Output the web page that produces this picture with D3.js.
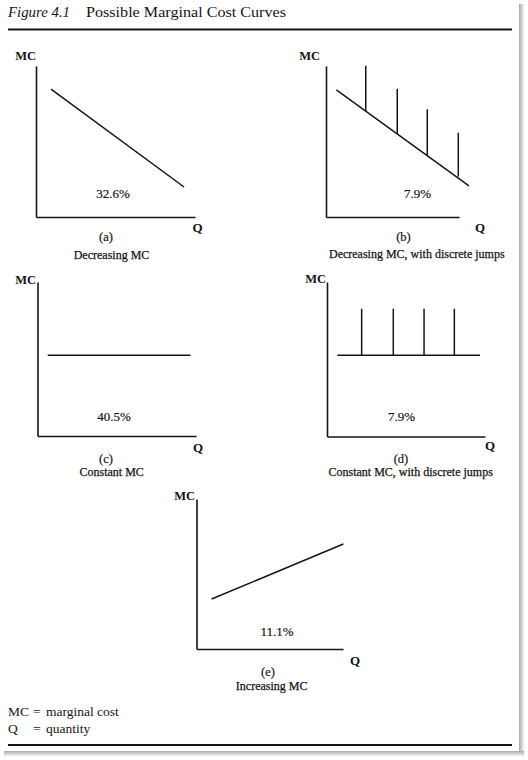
<!DOCTYPE html>
<html>
<head>
<meta charset="utf-8">
<script src="https://cdn.jsdelivr.net/npm/d3@7"></script>
<style>
  html, body { margin: 0; padding: 0; background: #fff; }
  svg text { font-family: "Liberation Serif", "DejaVu Serif", serif; fill: #151515; }
  .eje .domain { stroke: #151515; stroke-width: 1.6px; }
  .curva { fill: none; stroke: #151515; stroke-width: 1.5px; }
  .salto { stroke: #151515; stroke-width: 1.5px; }
</style>
</head>
<body>
<script>
var anchoSvg = 528,
    altoSvg = 760,
    pxPorUnidad = 1.5;

// datos del grafico (unidades abstractas: Q en horizontal, MC en vertical)
var paneles = ['(a)', '(b)', '(c)', '(d)', '(e)'];
var titulos = ['Decreasing MC', 'Decreasing MC, with discrete jumps', 'Constant MC',
               'Constant MC, with discrete jumps', 'Increasing MC'];
var porcentajes = ['32.6%', '7.9%', '40.5%', '7.9%', '11.1%'];
var largoEjeQ = [106, 88.7, 105.7, 105.3, 97.7];
var largoEjeMC = [100.7, 100.7, 102.7, 103, 100];

var curvaA = [{q: 10, mc: 85.3}, {q: 98.7, mc: 20}];
var curvaB = [{q: 6.9, mc: 84.7}, {q: 95.3, mc: 20.7}];
var curvaC = [{q: 6.8, mc: 53.8}, {q: 102, mc: 53.8}];
var curvaD = [{q: 6.9, mc: 54.1}, {q: 102, mc: 54.1}];
var curvaE = [{q: 10.1, mc: 33.3}, {q: 97.9, mc: 70}];
var curvas = [curvaA, curvaB, curvaC, curvaD, curvaE];

var saltosB_q = [26.5, 47.5, 67.5, 88.2],
    saltosB_base = [70.7, 55.3, 41.3, 26.9],
    saltosB_tope = [100.9, 85.5, 71.8, 56.2];
var saltosD_q = [23.1, 44.2, 64.7, 84.9],
    saltosD_base = [54.1, 54.1, 54.1, 54.1],
    saltosD_tope = [85.2, 85.2, 85.2, 85.2];

// posiciones de cada panel en la pagina
var disposicion = [
    {ox: 36,    oy: 217,   mc: [36, 60],     q: [197.5, 232], pct: [113, 198],   tag: [106, 241],   tit: [111.5, 259]},
    {ox: 326,   oy: 217,   mc: [320, 60],    q: [480, 232],   pct: [417.5, 198], tag: [403.5, 241], tit: [416.8, 258]},
    {ox: 37.5,  oy: 436,   mc: [36, 283.5],  q: [198, 452],   pct: [114, 421],   tag: [106, 463],   tit: [111.7, 476]},
    {ox: 327,   oy: 436.5, mc: [326, 283],   q: [490, 450],   pct: [401.5, 421], tag: [401, 463],   tit: [410.7, 476]},
    {ox: 196.5, oy: 649,   mc: [195, 499.5], q: [355, 665],   pct: [277, 635.5], tag: [268, 676],   tit: [271.7, 690]}
];

var svg = d3.select('body')
    .append('svg')
    .attr('width', anchoSvg)
    .attr('height', altoSvg);

// sombra de la pagina
var defs = svg.append('defs');
var gradDcho = defs.append('linearGradient').attr('id', 'sombraDcho');
gradDcho.append('stop').attr('offset', '0%').attr('stop-color', '#a8a8a8');
gradDcho.append('stop').attr('offset', '100%').attr('stop-color', '#f4f4f4');
var gradInf = defs.append('linearGradient').attr('id', 'sombraInf')
    .attr('x1', 0).attr('y1', 0).attr('x2', 0).attr('y2', 1);
gradInf.append('stop').attr('offset', '0%').attr('stop-color', '#a8a8a8');
gradInf.append('stop').attr('offset', '100%').attr('stop-color', '#f4f4f4');

svg.append('rect').attr('x', 519).attr('y', 4).attr('width', 5).attr('height', 752)
    .attr('fill', 'url(#sombraDcho)');
svg.append('rect').attr('x', 4).attr('y', 751).attr('width', 520).attr('height', 5)
    .attr('fill', 'url(#sombraInf)');
svg.append('rect').attr('x', 0).attr('y', 0).attr('width', 519).attr('height', 751)
    .attr('fill', '#fff');

// titulo
svg.append('text').attr('x', 8).attr('y', 17).style('font-size', '15px').style('font-style', 'italic')
    .attr('textLength', 62).attr('lengthAdjust', 'spacingAndGlyphs')
    .text('Figure 4.1');
svg.append('text').attr('x', 86).attr('y', 17).style('font-size', '15px')
    .attr('textLength', 200).attr('lengthAdjust', 'spacingAndGlyphs')
    .text('Possible Marginal Cost Curves');

svg.append('line').attr('x1', 8).attr('x2', 512).attr('y1', 29.5).attr('y2', 29.5)
    .attr('stroke', '#151515').attr('stroke-width', 2.2);

// paneles
disposicion.forEach(function (p, i) {
    var g = svg.append('g').attr('class', 'panel');

    var escalaX = d3.scaleLinear()
        .domain([0, largoEjeQ[i]])
        .range([p.ox, p.ox + largoEjeQ[i] * pxPorUnidad]);
    var escalaY = d3.scaleLinear()
        .domain([0, largoEjeMC[i]])
        .range([p.oy, p.oy - largoEjeMC[i] * pxPorUnidad]);
    // escala sin tope para las curvas que pasan del eje
    var x = d3.scaleLinear().domain([0, 1]).range([p.ox, p.ox + pxPorUnidad]);
    var y = d3.scaleLinear().domain([0, 1]).range([p.oy, p.oy - pxPorUnidad]);

    g.append('g').attr('class', 'eje')
        .attr('transform', 'translate(0,' + p.oy + ')')
        .call(d3.axisBottom(escalaX).tickValues([]).tickSizeOuter(0));
    g.append('g').attr('class', 'eje')
        .attr('transform', 'translate(' + p.ox + ',0)')
        .call(d3.axisLeft(escalaY).tickValues([]).tickSizeOuter(0));

    var linea = d3.line()
        .x(function (d) { return x(d.q); })
        .y(function (d) { return y(d.mc); });

    g.append('path').attr('class', 'curva').attr('d', linea(curvas[i]));

    var saltos = null;
    if (i === 1) saltos = saltosB_q.map(function (q, k) { return {q: q, b: saltosB_base[k], t: saltosB_tope[k]}; });
    if (i === 3) saltos = saltosD_q.map(function (q, k) { return {q: q, b: saltosD_base[k], t: saltosD_tope[k]}; });
    if (saltos) {
        g.selectAll('.salto')
            .data(saltos)
            .enter()
            .append('line')
            .attr('class', 'salto')
            .attr('x1', function (d) { return x(d.q); })
            .attr('x2', function (d) { return x(d.q); })
            .attr('y1', function (d) { return y(d.b); })
            .attr('y2', function (d) { return y(d.t); });
    }

    g.append('text').attr('x', p.mc[0]).attr('y', p.mc[1])
        .attr('text-anchor', 'end').style('font-size', '12.5px').style('font-weight', 'bold')
        .text('MC');
    g.append('text').attr('x', p.q[0]).attr('y', p.q[1])
        .attr('text-anchor', 'middle').style('font-size', '13px').style('font-weight', 'bold')
        .text('Q');
    g.append('text').attr('x', p.pct[0]).attr('y', p.pct[1])
        .attr('text-anchor', 'middle').style('font-size', '13px')
        .style('stroke', '#151515').style('stroke-width', 0.2)
        .text(porcentajes[i]);
    g.append('text').attr('x', p.tag[0]).attr('y', p.tag[1])
        .attr('text-anchor', 'middle').style('font-size', '12.5px')
        .style('stroke', '#151515').style('stroke-width', 0.2)
        .text(paneles[i]);
    g.append('text').attr('x', p.tit[0]).attr('y', p.tit[1])
        .attr('text-anchor', 'middle').style('font-size', '12px')
        .style('stroke', '#151515').style('stroke-width', 0.25)
        .text(titulos[i]);
});

// notas al pie
var notas = [['MC', 'marginal cost'], ['Q', 'quantity']];
var basesNotas = [716, 733];
notas.forEach(function (n, k) {
    svg.append('text').attr('x', 8).attr('y', basesNotas[k]).style('font-size', '13.5px').text(n[0]);
    svg.append('text').attr('x', 33).attr('y', basesNotas[k]).style('font-size', '13.5px').text('=');
    svg.append('text').attr('x', 46).attr('y', basesNotas[k]).style('font-size', '13.5px').text(n[1]);
});

svg.append('line').attr('x1', 8).attr('x2', 512).attr('y1', 745).attr('y2', 745)
    .attr('stroke', '#151515').attr('stroke-width', 2.2);
</script>
</body>
</html>
